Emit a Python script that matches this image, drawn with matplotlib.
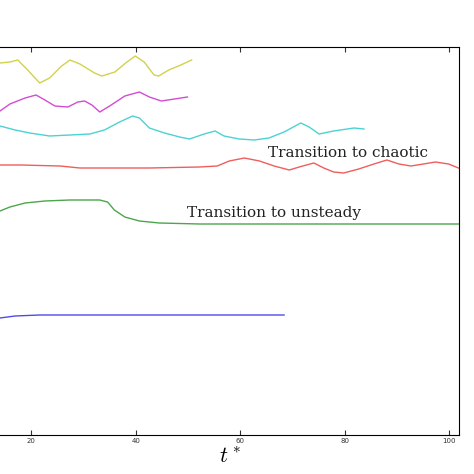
import matplotlib
matplotlib.use("Agg")
import matplotlib.pyplot as plt
import numpy as np

plt.rcParams["mathtext.fontset"] = "cm"

# time values (t*) and response values (arbitrary units)
yellow_t = [14.0, 15.9, 17.4, 19.3, 21.6, 23.5, 25.8, 27.4, 29.3, 32.1, 33.5, 36.0, 38.3, 39.9, 41.6, 43.5, 44.4, 46.3, 48.2, 50.7]
yellow_v = [372, 373, 375, 365, 352, 357, 369, 375, 371, 362, 359, 363, 373, 379, 373, 360, 359, 365, 369, 375]
magenta_t = [14.0, 15.9, 18.8, 20.9, 22.6, 24.5, 27.0, 28.9, 30.2, 31.6, 33.1, 35.0, 37.9, 40.7, 42.6, 44.9, 47.4, 49.9]
magenta_v = [324, 331, 337, 340, 335, 329, 328, 333, 334, 330, 323, 329, 339, 343, 338, 334, 336, 338]
cyan_t = [14.0, 16.9, 19.7, 23.5, 27.4, 31.2, 34.0, 36.9, 39.4, 40.7, 42.6, 45.5, 48.4, 50.3, 53.1, 55.2, 56.9, 59.8, 62.7, 65.5, 68.4, 71.6, 73.2, 75.1, 77.9, 81.8, 83.7]
cyan_v = [309, 305, 302, 299, 300, 301, 305, 313, 319, 317, 307, 302, 298, 296, 301, 304, 299, 296, 295, 297, 303, 312, 308, 301, 304, 307, 306]
red_t = [14.0, 17.9, 25.5, 29.3, 33.1, 42.6, 52.2, 55.6, 57.9, 60.8, 63.7, 66.5, 69.4, 71.3, 74.1, 76.0, 77.9, 79.8, 82.7, 85.6, 88.1, 90.4, 92.7, 95.1, 97.4, 99.9, 101.8]
red_v = [270, 270, 269, 267, 267, 267, 268, 269, 274, 277, 274, 269, 265, 268, 272, 267, 263, 262, 266, 271, 275, 271, 269, 271, 273, 271, 267]
green_t = [14.0, 15.9, 18.8, 22.6, 27.4, 31.2, 33.1, 34.6, 35.9, 37.9, 40.7, 44.5, 52.2, 71.3, 101.8]
green_v = [224, 228, 232, 234, 235, 235, 235, 233, 225, 218, 214, 212, 211, 211, 211]
blue_t = [14.0, 16.9, 21.6, 29.3, 42.6, 68.4]
blue_v = [117, 119, 120, 120, 120, 120]

series = [
    (yellow_t, yellow_v, (0.75, 0.75, 0.0)),
    (magenta_t, magenta_v, (0.75, 0.0, 0.75)),
    (cyan_t, cyan_v, (0.0, 0.75, 0.75)),
    (red_t, red_v, (0.9, 0.1, 0.1)),
    (green_t, green_v, (0.0, 0.5, 0.0)),
    (blue_t, blue_v, (0.0, 0.0, 0.9)),
]

fig = plt.figure(figsize=(4.74, 4.74), dpi=100)
ax = fig.add_axes([0.0, 39 / 474, 459 / 474, 388 / 474])
for t, v, c in series:
    ax.plot(t, v, color=c, lw=1.0, alpha=0.7)

ax.text(80.7, 282, "Transition to chaotic", family="DejaVu Serif", fontsize=11,
        ha="center", va="center", color="#222")
ax.text(66.4, 222, "Transition to unsteady", family="DejaVu Serif", fontsize=11,
        ha="center", va="center", color="#222")

ax.set_xlim(14, 101.9)
ax.set_ylim(0, 388)
ax.set_xticks([20, 40, 60, 80, 100])
ax.set_yticks([])
ax.tick_params(axis="x", direction="in", top=True, labelsize=5, colors="#333", pad=2)
ax.spines["left"].set_visible(False)
ax.set_xlabel("$t^*$", fontsize=16, labelpad=2)
fig.savefig("out.png", dpi=100)
